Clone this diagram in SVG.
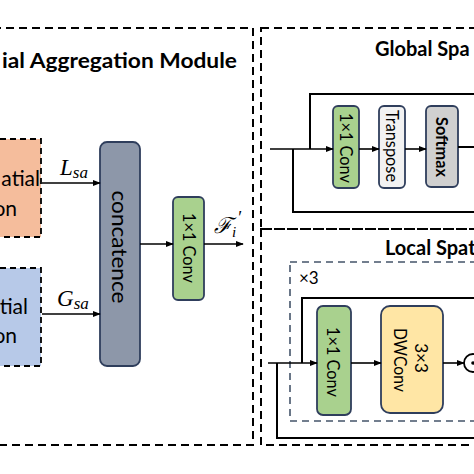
<svg xmlns="http://www.w3.org/2000/svg" width="474" height="474" viewBox="0 0 474 474">
<defs>
<marker id="ah" viewBox="0 0 10 10" refX="9" refY="5" markerWidth="5" markerHeight="5" orient="auto" markerUnits="strokeWidth">
<path d="M0,1 L10,5 L0,9 z" fill="#000"/>
</marker>
<style>
.outer{fill:none;stroke:#000;stroke-width:2;stroke-dasharray:8,5}
.inner{fill:none;stroke:#44546a;stroke-width:1.6;stroke-dasharray:7,5}
.title{font-family:Lato,"Open Sans",sans-serif;font-weight:bold;font-size:20px;fill:#000}
.lbl{font-family:Lato,"Open Sans",sans-serif;font-size:17px;fill:#000}
.big{font-family:Lato,"Open Sans",sans-serif;font-size:21px;fill:#000}
.math{font-family:"Liberation Serif","DejaVu Serif",serif;font-style:italic;fill:#000}
.ln{fill:none;stroke:#000;stroke-width:2}
.arr{fill:none;stroke:#000;stroke-width:1.6;marker-end:url(#ah)}
.box{stroke:#2f3e5c;stroke-width:1.8}
</style>
</defs>
<rect width="474" height="474" fill="#fff"/>

<g id="panel-left">
<rect class="outer" x="-20" y="28" width="273" height="417"/>
<text class="title" x="2" y="68" font-size="21" textLength="235" lengthAdjust="spacingAndGlyphs">ial Aggregation Module</text>
</g>

<g id="local-input">
<rect x="-10" y="139" width="51" height="98" fill="#f5bd9c" stroke="#000" stroke-width="1.8" stroke-dasharray="6,4"/>
<text class="big" x="40" y="186" text-anchor="end">atial</text>
<text class="big" x="17" y="216" text-anchor="end">on</text>
</g>

<g id="global-input">
<rect x="-10" y="268" width="51" height="98" fill="#b7c9e8" stroke="#000" stroke-width="1.8" stroke-dasharray="6,4"/>
<text class="big" x="28" y="314" text-anchor="end">tial</text>
<text class="big" x="17" y="343" text-anchor="end">on</text>
</g>

<g id="concat">
<rect class="box" x="100" y="142" width="40" height="224" rx="7" fill="#8d97a9"/>
<text class="big" transform="translate(112,247) rotate(90)" text-anchor="middle" font-size="23" textLength="113" lengthAdjust="spacingAndGlyphs">concatence</text>
</g>

<g id="conv-left">
<rect class="box" x="173" y="197" width="31" height="103" rx="5" fill="#a9d18e"/>
<text class="lbl" transform="translate(183,248) rotate(90)" text-anchor="middle" font-size="16" textLength="70" lengthAdjust="spacingAndGlyphs">1×1 Conv</text>
</g>

<g id="panel-global">
<rect class="outer" x="261" y="28" width="230" height="201"/>
<text class="title" x="375" y="56">Global Spa</text>
</g>

<g id="conv-global">
<rect class="box" x="333" y="106" width="26" height="82" rx="5" fill="#a9d18e"/>
<text class="lbl" transform="translate(340,148) rotate(90)" text-anchor="middle" textLength="70" lengthAdjust="spacingAndGlyphs">1×1 Conv</text>
</g>
<g id="transpose">
<rect class="box" x="379" y="106" width="26" height="82" rx="5" fill="#f2f2f2"/>
<text class="lbl" transform="translate(386,146) rotate(90)" text-anchor="middle" fill="#333" textLength="72" lengthAdjust="spacingAndGlyphs">Transpose</text>
</g>
<g id="softmax">
<rect class="box" x="426" y="106" width="32" height="81" rx="5" fill="#d0d0d0"/>
<text class="lbl" transform="translate(436,147) rotate(90)" text-anchor="middle" font-weight="bold" textLength="60" lengthAdjust="spacingAndGlyphs">Softmax</text>
</g>

<g id="panel-local">
<rect class="outer" x="261" y="229" width="230" height="216"/>
<text class="title" x="385" y="255">Local Spat</text>
<rect class="inner" x="290" y="262" width="200" height="159"/>
<text class="lbl" x="299" y="284" font-size="18">×3</text>
</g>

<g id="conv-local">
<rect class="box" x="317" y="306" width="34" height="109" rx="6" fill="#a9d18e"/>
<text class="lbl" transform="translate(327,362) rotate(90)" text-anchor="middle" font-size="19" textLength="70" lengthAdjust="spacingAndGlyphs">1×1 Conv</text>
</g>
<g id="dwconv">
<rect class="box" x="381" y="306" width="62" height="107" rx="9" fill="#ffe6a5"/>
<text class="lbl" transform="translate(415,358) rotate(90)" text-anchor="middle" font-size="18">3×3</text>
<text class="lbl" transform="translate(394,360) rotate(90)" text-anchor="middle" font-size="18" textLength="64" lengthAdjust="spacingAndGlyphs">DWConv</text>
</g>
<g id="mul">
<circle cx="473" cy="363" r="9" fill="#fff" stroke="#000" stroke-width="1.8"/>
<circle cx="473" cy="363" r="1.8" fill="#000"/>
</g>

<g id="connectors">
<line class="arr" x1="42" y1="183" x2="100" y2="183"/>
<line class="arr" x1="42" y1="314" x2="100" y2="314"/>
<line class="arr" x1="140" y1="244" x2="173" y2="244"/>
<line class="arr" x1="204" y1="244" x2="243" y2="244"/>

<line class="arr" x1="270" y1="149" x2="333" y2="149"/>
<polyline class="ln" points="310,149 310,94 480,94"/>
<polyline class="ln" points="293,149 293,212 480,212"/>
<line class="arr" x1="359" y1="149" x2="379" y2="149"/>
<line class="arr" x1="405" y1="149" x2="426" y2="149"/>
<line class="ln" x1="458" y1="147" x2="480" y2="147"/>

<line class="arr" x1="268" y1="363" x2="317" y2="363"/>
<polyline class="ln" points="302,363 302,298 480,298"/>
<polyline class="ln" points="277,363 277,438 480,438"/>
<line class="arr" x1="351" y1="363" x2="381" y2="363"/>
<line class="arr" x1="443" y1="363" x2="464" y2="363"/>
</g>

<g id="labels">
<text class="math" x="60" y="175" font-size="23">L<tspan font-size="17" dy="3">sa</tspan></text>
<text class="math" x="57" y="306" font-size="23">G<tspan font-size="17" dy="3">sa</tspan></text>
<text class="math" x="214" y="233" font-size="22">ℱ<tspan font-size="15" dy="4">i</tspan><tspan dy="-13" dx="2" font-size="18" font-style="normal">′</tspan></text>
</g>
</svg>
